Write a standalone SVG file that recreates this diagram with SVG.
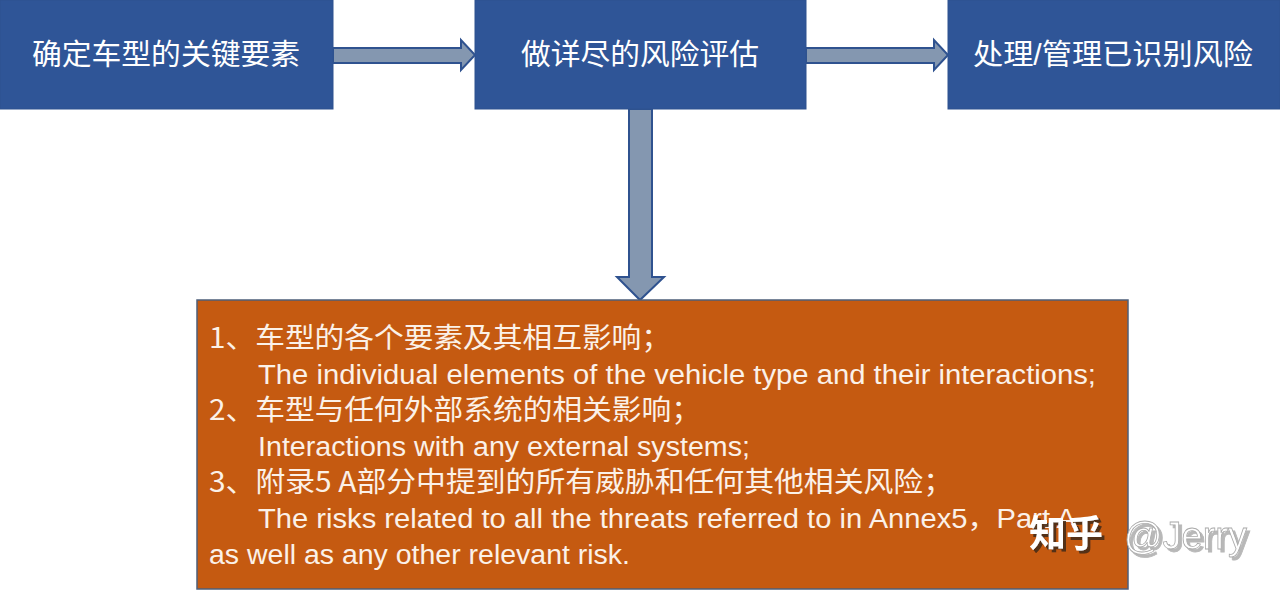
<svg xmlns="http://www.w3.org/2000/svg" width="1280" height="591" viewBox="0 0 1280 591">
<defs>
<filter id="shadowDark" x="-10%" y="-10%" width="130%" height="140%">
<feDropShadow dx="3" dy="3" stdDeviation="0.6" flood-color="#4A2E18" flood-opacity="0.9"/>
</filter>
<filter id="shadowGrey" x="-10%" y="-10%" width="130%" height="140%">
<feDropShadow dx="3" dy="3" stdDeviation="0.6" flood-color="#B0B0B0" flood-opacity="0.9"/>
</filter>
</defs>
<style>
.box{fill:#2F5597;stroke:#2F528F;stroke-width:1}
.arrow{fill:#8497B0;stroke:#2F528F;stroke-width:2;stroke-linejoin:miter}
.title{font-family:"Liberation Sans","Noto Sans CJK SC",sans-serif;font-size:29px;fill:#FFFFFF;text-anchor:middle}
.body{font-family:"Liberation Sans","Noto Sans CJK SC",sans-serif;font-size:27px;fill:#FBF1E8}
.cn{font-family:"Noto Sans CJK SC",sans-serif;font-size:28px;fill:#FBF1E8}
.wm{font-family:"Noto Sans CJK SC",sans-serif;font-weight:bold;font-size:37px;fill:#FFFFFF}
.wm2{font-family:"Liberation Sans",sans-serif;font-size:38px;fill:#FFFFFF;stroke:#AAAAAA;stroke-width:0.8}
</style>
<rect width="1280" height="591" fill="#FFFFFF"/>
<g id="connectors">
<polygon class="arrow" points="333,48 461,48 461,40 475,55 461,70 461,63 333,63"/>
<polygon class="arrow" points="806,48 934,48 934,40 948,55 934,70 934,63 806,63"/>
<polygon class="arrow" points="629,109 652,109 652,277 664,277 640,300 617,277 629,277"/>
</g>
<g id="node1">
<rect class="box" x="0" y="0" width="333" height="109"/>
<text class="title" x="166" y="65" textLength="268" lengthAdjust="spacingAndGlyphs">确定车型的关键要素</text>
</g>
<g id="node2">
<rect class="box" x="475" y="0" width="331" height="109"/>
<text class="title" x="640" y="65" textLength="238" lengthAdjust="spacingAndGlyphs">做详尽的风险评估</text>
</g>
<g id="node3">
<rect class="box" x="948" y="0" width="332" height="109"/>
<text class="title" x="1113" y="65" textLength="280" lengthAdjust="spacingAndGlyphs">处理/管理已识别风险</text>
</g>
<g id="node4">
<rect x="197" y="300" width="931" height="289" fill="#C55A11" stroke="#4E5F7A" stroke-width="1.5"/>
<text class="cn" x="209" y="348" textLength="462" lengthAdjust="spacingAndGlyphs">1、车型的各个要素及其相互影响；</text>
<text class="body" x="258" y="384" textLength="838" lengthAdjust="spacingAndGlyphs">The individual elements of the vehicle type and their interactions;</text>
<text class="cn" x="209" y="420" textLength="492" lengthAdjust="spacingAndGlyphs">2、车型与任何外部系统的相关影响；</text>
<text class="body" x="258" y="456" textLength="492" lengthAdjust="spacingAndGlyphs">Interactions with any external systems;</text>
<text class="cn" x="209" y="492" textLength="744" lengthAdjust="spacingAndGlyphs">3、附录5 A部分中提到的所有威胁和任何其他相关风险；</text>
<text class="body" x="258" y="528" textLength="818" lengthAdjust="spacingAndGlyphs">The risks related to all the threats referred to in Annex5，Part A</text>
<text class="body" x="209" y="564" textLength="421" lengthAdjust="spacingAndGlyphs">as well as any other relevant risk.</text>
</g>
<g id="watermark">
<text class="wm" x="1029" y="547" filter="url(#shadowDark)">知乎</text>
<text class="wm2" x="1124" y="549" filter="url(#shadowGrey)">@Jerry</text>
</g>
</svg>
